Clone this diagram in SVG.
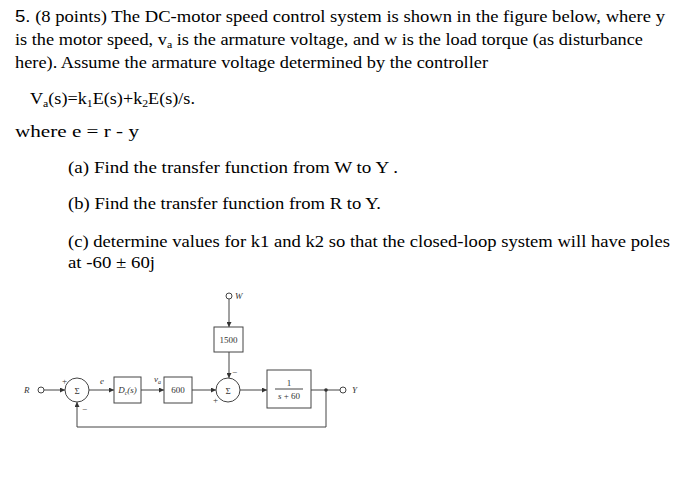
<svg xmlns="http://www.w3.org/2000/svg" width="695" height="486" viewBox="0 0 695 486">
<style>
.t{font-family:"Liberation Serif",serif;font-size:17px;fill:#000}
.d{font-family:"Liberation Serif",serif;font-size:9px;fill:#333}
.i{font-style:italic}
.l{stroke:#444;stroke-width:1;fill:none}
.b{stroke:#444;stroke-width:1;fill:#fff}
</style>
<defs><marker id="a" viewBox="0 0 6 6" refX="6" refY="3" markerWidth="5" markerHeight="5" orient="auto"><path d="M0,0L6,3L0,6z" fill="#333"/></marker></defs>
<rect width="695" height="486" fill="#fff"/>
<text class="t" x="15" y="22" textLength="650" lengthAdjust="spacingAndGlyphs"><tspan font-family="Liberation Sans,sans-serif">5.</tspan> (8 points) The DC-motor speed control system is shown in the figure below, where y</text>
<text class="t" x="15" y="45" textLength="628" lengthAdjust="spacingAndGlyphs">is the motor speed, v<tspan font-size="11" dy="3">a</tspan><tspan dy="-3"> is the armature voltage, and w is the load torque (as disturbance</tspan></text>
<text class="t" x="15" y="68" textLength="473" lengthAdjust="spacingAndGlyphs">here). Assume the armature voltage determined by the controller</text>
<text class="t" x="30" y="104" textLength="165" lengthAdjust="spacingAndGlyphs">V<tspan font-size="11" dy="3">a</tspan><tspan dy="-3">(s)=k</tspan><tspan font-size="11" dy="3">1</tspan><tspan dy="-3">E(s)+k</tspan><tspan font-size="11" dy="3">2</tspan><tspan dy="-3">E(s)/s.</tspan></text>
<text class="t" x="15" y="137" textLength="124" lengthAdjust="spacingAndGlyphs">where e = r - y</text>
<text class="t" x="68" y="173" textLength="330" lengthAdjust="spacingAndGlyphs">(a) Find the transfer function from W to Y .</text>
<text class="t" x="68" y="209" textLength="313" lengthAdjust="spacingAndGlyphs">(b) Find the transfer function from R to Y.</text>
<text class="t" x="68" y="247" textLength="602" lengthAdjust="spacingAndGlyphs">(c)  determine values for k1 and k2 so that the closed-loop system will have poles</text>
<text class="t" x="68" y="268" textLength="87" lengthAdjust="spacingAndGlyphs">at -60 ± 60j</text>
<g id="conn">
<line class="l" x1="44" y1="390" x2="65" y2="390" marker-end="url(#a)"/>
<line class="l" x1="89" y1="390" x2="114" y2="390" marker-end="url(#a)"/>
<line class="l" x1="141" y1="390" x2="164" y2="390" marker-end="url(#a)"/>
<line class="l" x1="192" y1="390" x2="216" y2="390" marker-end="url(#a)"/>
<line class="l" x1="240" y1="390" x2="267" y2="390" marker-end="url(#a)"/>
<line class="l" x1="311" y1="390" x2="340" y2="390"/>
<line class="l" x1="229" y1="299" x2="229" y2="327" marker-end="url(#a)"/>
<line class="l" x1="229" y1="352" x2="229" y2="378" marker-end="url(#a)"/>
<polyline class="l" points="326,390 326,427 77,427 77,402" marker-end="url(#a)"/>
<circle cx="326" cy="390" r="1.8" fill="#333"/>
</g>
<g id="R"><circle class="b" cx="41" cy="390" r="3"/><text class="d i" x="24" y="393">R</text></g>
<g id="sum1"><circle class="b" cx="77" cy="390" r="12"/><text class="d" x="77" y="394" text-anchor="middle">Σ</text><text class="d" x="62" y="384">+</text><text class="d" x="82" y="412">−</text></g>
<g id="Dc"><rect class="b" x="114" y="377" width="27" height="26"/><text class="d i" x="127.5" y="393" text-anchor="middle">D<tspan font-size="6" dy="2">c</tspan><tspan dy="-2">(s)</tspan></text><text class="d i" x="100" y="384">e</text></g>
<g id="g600"><rect class="b" x="164" y="377" width="28" height="26"/><text class="d" x="178" y="393" text-anchor="middle">600</text><text class="d i" x="154" y="382">v<tspan font-size="6" dy="2">a</tspan></text></g>
<g id="sum2"><circle class="b" cx="228" cy="390" r="12"/><text class="d" x="228" y="394" text-anchor="middle">Σ</text><text class="d" x="213" y="403">+</text><text class="d" x="232" y="375">−</text></g>
<g id="g1500"><rect class="b" x="214" y="327" width="29" height="25"/><text class="d" x="228.5" y="343" text-anchor="middle">1500</text></g>
<g id="W"><circle class="b" cx="229" cy="296" r="3"/><text class="d i" x="235" y="299">W</text></g>
<g id="plant"><rect class="b" x="267" y="370" width="44" height="38"/><text class="d" x="289" y="386" text-anchor="middle">1</text><line class="l" x1="275" y1="389" x2="303" y2="389"/><text class="d" x="289" y="399" text-anchor="middle"><tspan font-style="italic">s</tspan> + 60</text></g>
<g id="Y"><circle class="b" cx="343" cy="390" r="3"/><text class="d i" x="352" y="393">Y</text></g>
</svg>
